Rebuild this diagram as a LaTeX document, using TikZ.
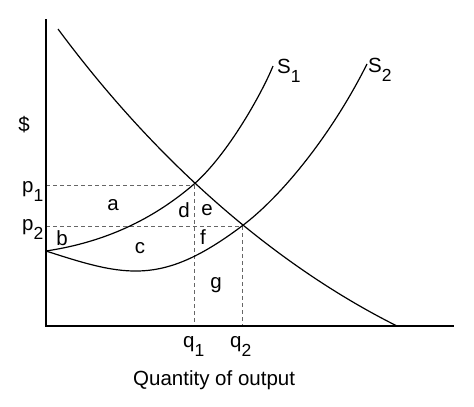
\documentclass[tikz,border=0pt]{standalone}
\usepackage{fontspec}
\setmainfont{Liberation Sans}
\newcommand\sublab[2]{#1\raisebox{-9pt}{\fontsize{17.5}{17.5}\selectfont #2}}
\begin{document}
\begin{tikzpicture}[x=1pt,y=-1pt,
  axis/.style={line width=1.6pt},
  curve/.style={line width=1.2pt,line join=round},
  guide/.style={line width=0.9pt,gray!80!black,dash pattern=on 4pt off 3pt},
  txt/.style={inner sep=0pt,font=\fontsize{20.5}{24}\selectfont},
  btxt/.style={txt,anchor=base west}]
\useasboundingbox (0,0) rectangle (474,407);
% key points
\coordinate (O) at (46,326);
\coordinate (Ytop) at (46,19);
\coordinate (Xend) at (454,326);
\coordinate (E1) at (193,185);
\coordinate (E2) at (242,226);
\coordinate (P1) at (46,185);
\coordinate (P2) at (46,226);
\coordinate (Q1) at (194,326);
\coordinate (Q2) at (242,326);
\coordinate (S0) at (46,251);
\coordinate (S1top) at (273,66);
\coordinate (S2top) at (367,64);
\coordinate (Dtop) at (58,29);
\coordinate (Dend) at (397,326);
% guides
\draw[guide] (P1) -- (E1);
\draw[guide] (P2) -- (E2);
\draw[guide] (E1 |- P1) ++(1,0) -- (Q1);
\draw[guide] (E2) -- (Q2);
% axes
\draw[axis] (Ytop) -- (O) -- (Xend);
% demand
\draw[curve] (Dtop) .. controls (158,164) and (277,266) .. (Dend);
% S1
\draw[curve] (S0) .. controls (106,242) and (153,219) .. (E1)
  .. controls (228,155) and (263,91) .. (S1top);
% S2
\draw[curve] (S0) .. controls (126,277) and (162,286) .. (E2)
  .. controls (282,196) and (332,134) .. (S2top);
% labels
\node[txt] (dollar) at (24,125) {\$};
\node[btxt] (p1) at (22,192) {\sublab{p}{1}};
\node[btxt] (p2) at (22,230) {\sublab{p}{2}};
\node[btxt] (q1) at (183,347) {\sublab{q}{1}};
\node[btxt] (q2) at (230,347) {\sublab{q}{2}};
\node[btxt] (s1) at (277,73) {\sublab{S}{1}};
\node[btxt] (s2) at (368,72) {\sublab{S}{2}};
\node[btxt] (xlab) at (133,385) {Quantity of output};
\node[txt] (la) at (113,205) {a};
\node[txt] (lb) at (62,238) {b};
\node[txt] (lc) at (140,248) {c};
\node[txt] (ld) at (184,210) {d};
\node[txt] (le) at (207,210) {e};
\node[txt] (lf) at (203,237) {f};
\node[txt] (lg) at (216,285) {g};
\end{tikzpicture}
\end{document}
